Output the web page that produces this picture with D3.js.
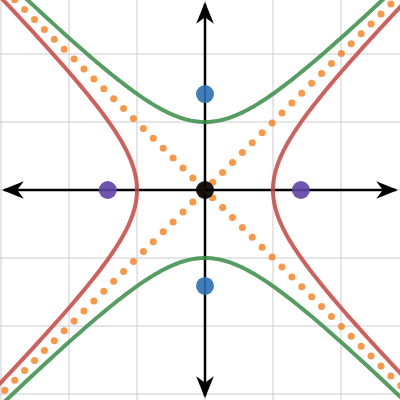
<!DOCTYPE html><html><head><script src="https://cdn.jsdelivr.net/npm/d3@7"></script>
<style>body{margin:0}svg{display:block}</style></head><body><svg width="400" height="400"></svg><script>
const gridTicks=[-3,-2,-1,1,2];
const hyperA=[1], hyperB=[1];
const foci=[[0,1.41],[0,-1.41]];
const fociX=[[-1.43,0],[1.41,0]];
const origin=[[0,0]];
const tParams=d3.range(-2.2,2.201,0.02);
const W=400,H=400;
const x=d3.scaleLinear().domain([-205/68,195/68]).range([0,W]);
const y=d3.scaleLinear().domain([190/68,-210/68]).range([0,H]);
const svg=d3.select("svg");
svg.append("rect").attr("width",W).attr("height",H).attr("fill","#fff");
svg.selectAll(".gx").data(d3.range(-3,3)).enter().append("line").attr("x1",d=>x(d)).attr("x2",d=>x(d)).attr("y1",0).attr("y2",H).attr("stroke","#ccc").attr("stroke-width",1);
svg.selectAll(".gy").data(d3.range(-3,3)).enter().append("line").attr("y1",d=>y(d)).attr("y2",d=>y(d)).attr("x1",0).attr("x2",W).attr("stroke","#ccc").attr("stroke-width",1);
const defs=svg.append("defs");
defs.append("marker").attr("id","ar").attr("viewBox","0 0 10 10").attr("refX",9).attr("refY",5).attr("markerWidth",6).attr("markerHeight",6).attr("orient","auto-start-reverse").attr("markerUnits","userSpaceOnUse")
 .attr("markerWidth",22).attr("markerHeight",22).append("path").attr("d","M0,1 L10,5 L0,9 L3,5Z").attr("fill","#000");
svg.append("line").attr("x1",4).attr("x2",396).attr("y1",y(0)).attr("y2",y(0)).attr("stroke","#000").attr("stroke-width",2.5).attr("marker-start","url(#ar)").attr("marker-end","url(#ar)");
svg.append("line").attr("y1",4).attr("y2",396).attr("x1",x(0)).attr("x2",x(0)).attr("stroke","#000").attr("stroke-width",2.5).attr("marker-start","url(#ar)").attr("marker-end","url(#ar)");
const line=d3.line().x(d=>x(d[0])).y(d=>y(d[1]));
const a=hyperA[0],b=hyperB[0];
const curve=(f,c,dash)=>svg.append("path").datum(tParams.map(f)).attr("d",line).attr("fill","none").attr("stroke",c).attr("stroke-width",dash?5:4).attr("stroke-opacity",0.85).attr("stroke-linecap","round").attr("stroke-dasharray",dash?"0,10":null);
curve(t=>[a*Math.cosh(t),b*Math.sinh(t)],"#c74440");
curve(t=>[-a*Math.cosh(t),b*Math.sinh(t)],"#c74440");
curve(t=>[b*Math.sinh(t),a*Math.cosh(t)],"#388c46");
curve(t=>[b*Math.sinh(t),-a*Math.cosh(t)],"#388c46");
const diag=[-4.4,4.4];
svg.append("path").datum(diag.map(v=>[v,v])).attr("d",line).attr("stroke","#fa7e19").attr("stroke-opacity",0.8).attr("stroke-width",7).attr("stroke-linecap","round").attr("stroke-dasharray","0,14");
svg.append("path").datum(diag.map(v=>[v,-v])).attr("d",line).attr("stroke","#fa7e19").attr("stroke-opacity",0.8).attr("stroke-width",7).attr("stroke-linecap","round").attr("stroke-dasharray","0,14");
const pts=(data,c)=>svg.selectAll(null).data(data).enter().append("circle").attr("cx",d=>x(d[0])).attr("cy",d=>y(d[1])).attr("r",9).attr("fill",c).attr("fill-opacity",0.9);
pts(foci,"#2d70b3");pts(fociX,"#6042a6");pts(origin,"#000");
</script></body></html>
